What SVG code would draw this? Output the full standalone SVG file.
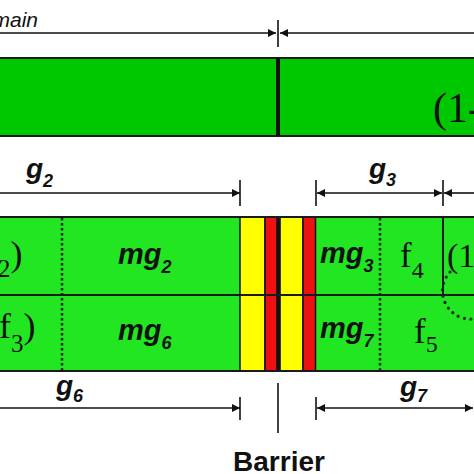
<svg xmlns="http://www.w3.org/2000/svg" width="474" height="474" viewBox="0 0 474 474">
<defs>
<style>
.ln{stroke:#111;stroke-width:1.6;fill:none}
.tk{stroke:#111;stroke-width:1.6}
.bd{stroke:#1a1a1a;stroke-width:2}
.dot{stroke:#0b2a0b;stroke-width:2.5;stroke-dasharray:2.5 2.5;fill:none}
.lbl{font-family:"Liberation Sans",Arial,sans-serif;font-weight:bold;font-style:italic;fill:#111}
.ser{font-family:"Liberation Serif","Times New Roman",serif;fill:#111}
</style>
<marker id="ah" viewBox="0 0 10 10" refX="10" refY="5" markerWidth="8" markerHeight="8" markerUnits="userSpaceOnUse" orient="auto-start-reverse">
<path d="M0,0 L10,5 L0,10 Z" fill="#111"/>
</marker>
</defs>
<rect width="474" height="474" fill="#fff"/>

<g id="top-bar">
<rect x="-5" y="58" width="484" height="78" fill="#00C800" class="bd"/>
<line x1="278" y1="58" x2="278" y2="136" stroke="#111" stroke-width="4"/>
<text class="ser" x="433" y="122" font-size="42">(1-</text>
</g>

<g id="middle-bar">
<rect x="-5" y="217" width="484" height="154" fill="#22E622" class="bd"/>
<line x1="-5" y1="295" x2="479" y2="295" class="bd"/>
<line x1="62" y1="218" x2="62" y2="370" class="dot"/>
<line x1="380" y1="218" x2="380" y2="370" class="dot"/>
<line x1="443" y1="217" x2="443" y2="295" class="bd"/>
<path d="M450,272 A28,28 0 1 0 494.2,306" fill="none" stroke="#0b2a0b" stroke-width="3.2" stroke-linecap="round" stroke-dasharray="0 6.5"/>
</g>

<g id="barrier">
<rect x="240" y="217" width="25" height="154" fill="#FFFF00" stroke="#111" stroke-width="1.5"/>
<rect x="265" y="217" width="12" height="154" fill="#EE1111" stroke="#111" stroke-width="1.5"/>
<rect x="280" y="217" width="23" height="154" fill="#FFFF00" stroke="#111" stroke-width="1.5"/>
<rect x="303" y="217" width="12.5" height="154" fill="#EE1111" stroke="#111" stroke-width="1.5"/>
<line x1="278.5" y1="217" x2="278.5" y2="371" stroke="#111" stroke-width="3.5"/>
<line x1="240" y1="295" x2="316" y2="295" class="bd"/>
<rect x="-5" y="217" width="484" height="154" fill="none" class="bd"/>
</g>

<g id="cell-labels">
<text class="ser" x="-2" y="277" font-size="25">2<tspan font-size="36" dy="-11">)</tspan></text>
<text class="ser" x="-1" y="338" font-size="36">f<tspan font-size="25" dy="14">3</tspan><tspan dy="-14">)</tspan></text>
<text class="lbl" x="118" y="264" font-size="29">mg<tspan font-size="18" dy="9">2</tspan></text>
<text class="lbl" x="118" y="340" font-size="29">mg<tspan font-size="18" dy="9">6</tspan></text>
<text class="lbl" x="320" y="263" font-size="29">mg<tspan font-size="18" dy="9">3</tspan></text>
<text class="lbl" x="320" y="338" font-size="29">mg<tspan font-size="18" dy="9">7</tspan></text>
<text class="ser" x="400" y="267" font-size="35">f<tspan font-size="24" dy="11">4</tspan></text>
<text class="ser" x="414" y="343" font-size="35">f<tspan font-size="24" dy="9">5</tspan></text>
<text class="ser" x="447" y="267" font-size="34">(1</text>
</g>

<g id="connectors">
<line x1="0" y1="33" x2="276" y2="33" class="ln" marker-end="url(#ah)"/>
<line x1="280" y1="33" x2="474" y2="33" class="ln" marker-start="url(#ah)"/>
<line x1="278" y1="20" x2="278" y2="47" class="tk"/>

<line x1="0" y1="193" x2="240" y2="193" class="ln" marker-end="url(#ah)"/>
<line x1="240" y1="180" x2="240" y2="206" class="tk"/>
<line x1="316" y1="180" x2="316" y2="206" class="tk"/>
<line x1="317" y1="193" x2="442" y2="193" class="ln" marker-start="url(#ah)" marker-end="url(#ah)"/>
<line x1="443" y1="180" x2="443" y2="206" class="tk"/>
<line x1="444" y1="193" x2="474" y2="193" class="ln" marker-start="url(#ah)"/>

<line x1="0" y1="408" x2="240" y2="408" class="ln" marker-end="url(#ah)"/>
<line x1="240" y1="397" x2="240" y2="420" class="tk"/>
<line x1="316" y1="397" x2="316" y2="420" class="tk"/>
<line x1="317" y1="408" x2="473" y2="408" class="ln" marker-start="url(#ah)" marker-end="url(#ah)"/>
<line x1="278" y1="383" x2="278" y2="433" class="tk"/>
</g>

<g id="dimension-labels">
<text x="38" y="27" text-anchor="end" font-family="Liberation Sans,Arial,sans-serif" font-style="italic" font-size="21" fill="#111">main</text>
<text class="lbl" x="26" y="178" font-size="28">g<tspan font-size="18" dy="9">2</tspan></text>
<text class="lbl" x="369" y="178" font-size="28">g<tspan font-size="18" dy="8">3</tspan></text>
<text class="lbl" x="56" y="395" font-size="28">g<tspan font-size="18" dy="7">6</tspan></text>
<text class="lbl" x="400" y="396" font-size="28">g<tspan font-size="18" dy="6">7</tspan></text>
<text x="279" y="471" text-anchor="middle" font-family="Liberation Sans,Arial,sans-serif" font-weight="bold" font-size="28" fill="#111">Barrier</text>
</g>
</svg>
